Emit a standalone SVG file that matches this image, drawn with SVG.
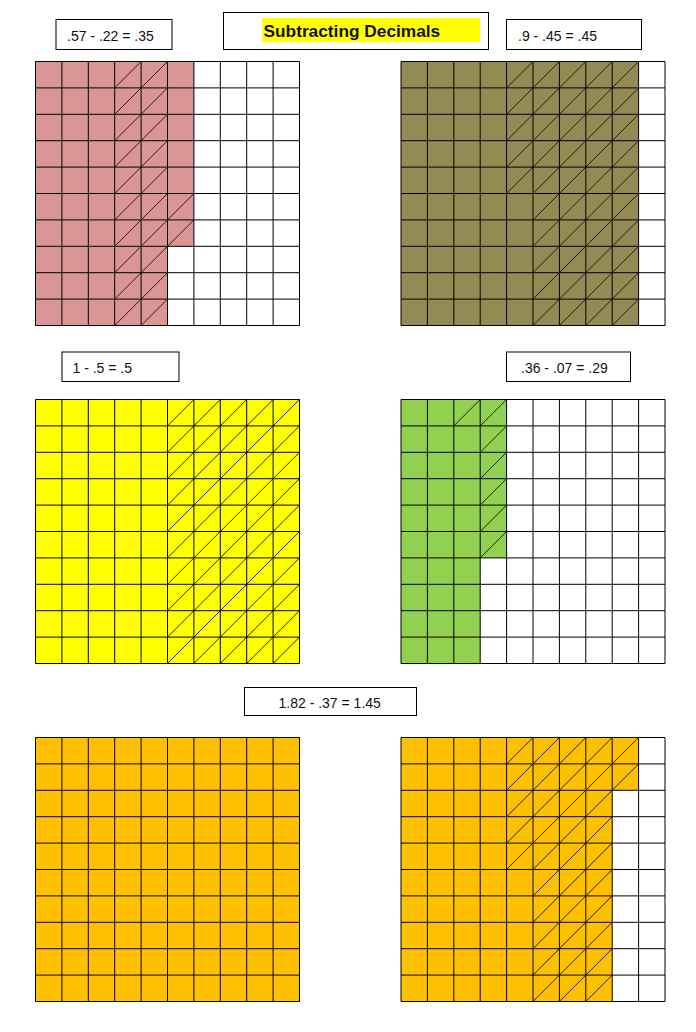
<svg xmlns="http://www.w3.org/2000/svg" xmlns:xlink="http://www.w3.org/1999/xlink" width="696" height="1032" viewBox="0 0 696 1032">
<style>
.bg{fill:#ffffff}
.lbl rect.box{fill:#ffffff;stroke:#000;stroke-width:1}
.lbl text{font-family:"Liberation Sans",Arial,sans-serif;font-size:14px;fill:#111}
.lbl text.title{font-family:"Liberation Sans",Arial,sans-serif;font-size:17.3px;font-weight:bold;fill:#111}
.hatch{fill:none;stroke:#111;stroke-width:0.9}
.gl{fill:none;stroke:#000;stroke-width:1}
.pink{fill:#D99694}
.olive{fill:#948A54}
.yellow{fill:#FFFF00}
.green{fill:#92D050}
.orange{fill:#FFC000}
.white{fill:#ffffff}
</style>
<defs>
<path id="grid" class="gl" d="M0,0H264M0,26.4H264M0,52.8H264M0,79.2H264M0,105.6H264M0,132H264M0,158.4H264M0,184.8H264M0,211.2H264M0,237.6H264M0,264H264M0,0V264M26.4,0V264M52.8,0V264M79.2,0V264M105.6,0V264M132,0V264M158.4,0V264M184.8,0V264M211.2,0V264M237.6,0V264M264,0V264"/>
</defs>
<rect class="bg" x="0" y="0" width="696" height="1032"/>

<g id="label-title" class="lbl">
<rect class="box" x="223.5" y="12.5" width="265" height="37"/>
<rect x="262" y="18" width="218" height="24" fill="#FFFF00"/>
<text class="title" x="263.5" y="37">Subtracting Decimals</text>
</g>

<g id="label-1" class="lbl">
<rect class="box" x="56" y="19.5" width="116" height="30"/>
<text x="67" y="40.7">.57 - .22 = .35</text>
</g>

<g id="label-2" class="lbl">
<rect class="box" x="506.5" y="19.5" width="135" height="30"/>
<text x="518" y="40.7">.9 - .45 = .45</text>
</g>

<g id="label-3" class="lbl">
<rect class="box" x="62" y="352" width="117" height="29.5"/>
<text x="72.5" y="373.3">1 - .5 = .5</text>
</g>

<g id="label-4" class="lbl">
<rect class="box" x="506.5" y="352" width="124" height="29.5"/>
<text x="521" y="373.3">.36 - .07 = .29</text>
</g>

<g id="label-5" class="lbl">
<rect class="box" x="244.5" y="687.5" width="172" height="28"/>
<text x="278.5" y="708.3">1.82 - .37 = 1.45</text>
</g>

<g id="grid-1">
<rect class="white" x="35.5" y="61.5" width="264" height="264"/>
<polygon class="pink" points="35.5,61.5 193.9,61.5 193.9,246.3 167.5,246.3 167.5,325.5 35.5,325.5"/>
<path class="hatch" d="M114.7,87.9l26.4,-26.4m-26.4,52.8l26.4,-26.4m-26.4,52.8l26.4,-26.4m-26.4,52.8l26.4,-26.4m-26.4,52.8l26.4,-26.4m-26.4,52.8l26.4,-26.4m-26.4,52.8l26.4,-26.4m-26.4,52.8l26.4,-26.4m-26.4,52.8l26.4,-26.4m-26.4,52.8l26.4,-26.4
M141.1,87.9l26.4,-26.4m-26.4,52.8l26.4,-26.4m-26.4,52.8l26.4,-26.4m-26.4,52.8l26.4,-26.4m-26.4,52.8l26.4,-26.4m-26.4,52.8l26.4,-26.4m-26.4,52.8l26.4,-26.4m-26.4,52.8l26.4,-26.4m-26.4,52.8l26.4,-26.4m-26.4,52.8l26.4,-26.4
M167.5,219.9l26.4,-26.4m-26.4,52.8l26.4,-26.4"/>
<use xlink:href="#grid" href="#grid" x="35.5" y="61.5"/>
</g>

<g id="grid-2">
<rect class="white" x="401" y="61.5" width="264" height="264"/>
<rect class="olive" x="401" y="61.5" width="237.6" height="264"/>
<path class="hatch" d="M506.6,87.9l26.4,-26.4m-26.4,52.8l26.4,-26.4m-26.4,52.8l26.4,-26.4m-26.4,52.8l26.4,-26.4m-26.4,52.8l26.4,-26.4
M533,87.9l26.4,-26.4m-26.4,52.8l26.4,-26.4m-26.4,52.8l26.4,-26.4m-26.4,52.8l26.4,-26.4m-26.4,52.8l26.4,-26.4m-26.4,52.8l26.4,-26.4m-26.4,52.8l26.4,-26.4m-26.4,52.8l26.4,-26.4m-26.4,52.8l26.4,-26.4m-26.4,52.8l26.4,-26.4
M559.4,87.9l26.4,-26.4m-26.4,52.8l26.4,-26.4m-26.4,52.8l26.4,-26.4m-26.4,52.8l26.4,-26.4m-26.4,52.8l26.4,-26.4m-26.4,52.8l26.4,-26.4m-26.4,52.8l26.4,-26.4m-26.4,52.8l26.4,-26.4m-26.4,52.8l26.4,-26.4m-26.4,52.8l26.4,-26.4
M585.8,87.9l26.4,-26.4m-26.4,52.8l26.4,-26.4m-26.4,52.8l26.4,-26.4m-26.4,52.8l26.4,-26.4m-26.4,52.8l26.4,-26.4m-26.4,52.8l26.4,-26.4m-26.4,52.8l26.4,-26.4m-26.4,52.8l26.4,-26.4m-26.4,52.8l26.4,-26.4m-26.4,52.8l26.4,-26.4
M612.2,87.9l26.4,-26.4m-26.4,52.8l26.4,-26.4m-26.4,52.8l26.4,-26.4m-26.4,52.8l26.4,-26.4m-26.4,52.8l26.4,-26.4m-26.4,52.8l26.4,-26.4m-26.4,52.8l26.4,-26.4m-26.4,52.8l26.4,-26.4m-26.4,52.8l26.4,-26.4m-26.4,52.8l26.4,-26.4"/>
<use xlink:href="#grid" href="#grid" x="401" y="61.5"/>
</g>

<g id="grid-3">
<rect class="yellow" x="35.5" y="399.5" width="264" height="264"/>
<path class="hatch" d="M167.5,425.9l26.4,-26.4m-26.4,52.8l26.4,-26.4m-26.4,52.8l26.4,-26.4m-26.4,52.8l26.4,-26.4m-26.4,52.8l26.4,-26.4m-26.4,52.8l26.4,-26.4m-26.4,52.8l26.4,-26.4m-26.4,52.8l26.4,-26.4m-26.4,52.8l26.4,-26.4m-26.4,52.8l26.4,-26.4
M193.9,425.9l26.4,-26.4m-26.4,52.8l26.4,-26.4m-26.4,52.8l26.4,-26.4m-26.4,52.8l26.4,-26.4m-26.4,52.8l26.4,-26.4m-26.4,52.8l26.4,-26.4m-26.4,52.8l26.4,-26.4m-26.4,52.8l26.4,-26.4m-26.4,52.8l26.4,-26.4m-26.4,52.8l26.4,-26.4
M220.3,425.9l26.4,-26.4m-26.4,52.8l26.4,-26.4m-26.4,52.8l26.4,-26.4m-26.4,52.8l26.4,-26.4m-26.4,52.8l26.4,-26.4m-26.4,52.8l26.4,-26.4m-26.4,52.8l26.4,-26.4m-26.4,52.8l26.4,-26.4m-26.4,52.8l26.4,-26.4m-26.4,52.8l26.4,-26.4
M246.7,425.9l26.4,-26.4m-26.4,52.8l26.4,-26.4m-26.4,52.8l26.4,-26.4m-26.4,52.8l26.4,-26.4m-26.4,52.8l26.4,-26.4m-26.4,52.8l26.4,-26.4m-26.4,52.8l26.4,-26.4m-26.4,52.8l26.4,-26.4m-26.4,52.8l26.4,-26.4m-26.4,52.8l26.4,-26.4
M273.1,425.9l26.4,-26.4m-26.4,52.8l26.4,-26.4m-26.4,52.8l26.4,-26.4m-26.4,52.8l26.4,-26.4m-26.4,52.8l26.4,-26.4m-26.4,52.8l26.4,-26.4m-26.4,52.8l26.4,-26.4m-26.4,52.8l26.4,-26.4m-26.4,52.8l26.4,-26.4m-26.4,52.8l26.4,-26.4"/>
<use xlink:href="#grid" href="#grid" x="35.5" y="399.5"/>
</g>

<g id="grid-4">
<rect class="white" x="401" y="399.5" width="264" height="264"/>
<polygon class="green" points="401,399.5 506.6,399.5 506.6,557.9 480.2,557.9 480.2,663.5 401,663.5"/>
<path class="hatch" d="M453.8,425.9l26.4,-26.4
M480.2,425.9l26.4,-26.4m-26.4,52.8l26.4,-26.4m-26.4,52.8l26.4,-26.4m-26.4,52.8l26.4,-26.4m-26.4,52.8l26.4,-26.4m-26.4,52.8l26.4,-26.4"/>
<use xlink:href="#grid" href="#grid" x="401" y="399.5"/>
</g>

<g id="grid-5">
<rect class="orange" x="35.5" y="737.5" width="264" height="264"/>
<use xlink:href="#grid" href="#grid" x="35.5" y="737.5"/>
</g>

<g id="grid-6">
<rect class="white" x="401" y="737.5" width="264" height="264"/>
<polygon class="orange" points="401,737.5 638.6,737.5 638.6,790.3 612.2,790.3 612.2,1001.5 401,1001.5"/>
<path class="hatch" d="M506.6,763.9l26.4,-26.4m-26.4,52.8l26.4,-26.4m-26.4,52.8l26.4,-26.4m-26.4,52.8l26.4,-26.4m-26.4,52.8l26.4,-26.4
M533,763.9l26.4,-26.4m-26.4,52.8l26.4,-26.4m-26.4,52.8l26.4,-26.4m-26.4,52.8l26.4,-26.4m-26.4,52.8l26.4,-26.4m-26.4,52.8l26.4,-26.4m-26.4,52.8l26.4,-26.4m-26.4,52.8l26.4,-26.4m-26.4,52.8l26.4,-26.4m-26.4,52.8l26.4,-26.4
M559.4,763.9l26.4,-26.4m-26.4,52.8l26.4,-26.4m-26.4,52.8l26.4,-26.4m-26.4,52.8l26.4,-26.4m-26.4,52.8l26.4,-26.4m-26.4,52.8l26.4,-26.4m-26.4,52.8l26.4,-26.4m-26.4,52.8l26.4,-26.4m-26.4,52.8l26.4,-26.4m-26.4,52.8l26.4,-26.4
M585.8,763.9l26.4,-26.4m-26.4,52.8l26.4,-26.4m-26.4,52.8l26.4,-26.4m-26.4,52.8l26.4,-26.4m-26.4,52.8l26.4,-26.4m-26.4,52.8l26.4,-26.4m-26.4,52.8l26.4,-26.4m-26.4,52.8l26.4,-26.4m-26.4,52.8l26.4,-26.4m-26.4,52.8l26.4,-26.4
M612.2,763.9l26.4,-26.4m-26.4,52.8l26.4,-26.4"/>
<use xlink:href="#grid" href="#grid" x="401" y="737.5"/>
</g>
</svg>
